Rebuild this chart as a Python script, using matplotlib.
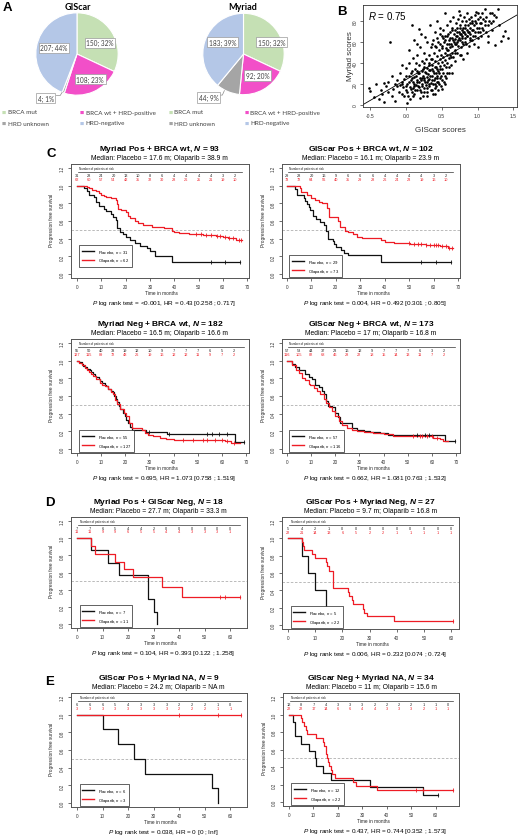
import numpy as np
import matplotlib
matplotlib.use("Agg")
import matplotlib.pyplot as plt
from matplotlib.lines import Line2D

plt.rcParams.update({
    "font.family": ["Liberation Sans", "DejaVu Sans"],
    "mathtext.fontset": "custom",
    "mathtext.rm": "Liberation Sans",
    "mathtext.it": "Liberation Sans:italic",
    "mathtext.bf": "Liberation Sans:bold",
    "mathtext.bfit": "Liberation Sans:bold:italic",
})

# ---------------- data: panel A (pies) ----------------
pie_categories = ["BRCA mut", "BRCA wt + HRD-positive", "HRD unknown", "HRD-negative"]
giscar_counts = [150, 108, 4, 207]
giscar_pcts = [32, 23, 1, 44]
myriad_counts = [150, 92, 44, 183]
myriad_pcts = [32, 20, 9, 39]

# ---------------- data: panel B (scatter) ----------------
scatter_x = [-0.52, -0.5, -0.45, -0.42, -0.38, -0.35, -0.3, -0.3, -0.33,
             -0.28, -0.25, -0.22, -0.2, -0.18, -0.15, -0.12, -0.1, -0.15, -0.25, -0.2, -0.12,
             -0.08, -0.06, -0.05, -0.04, -0.02, 0.0, 0.0, 0.02, 0.03, 0.04, 0.05, 0.06, 0.07, 0.08,
             0.08, 0.09, 0.1, 0.1, 0.02, -0.05, 0.06, 0.0, -0.08, 0.04, 0.1,
             0.12, 0.12, 0.13, 0.14, 0.15, 0.15, 0.16, 0.17, 0.18, 0.18, 0.19, 0.19, 0.2, 0.2, 0.21,
             0.22, 0.22, 0.23, 0.24, 0.25, 0.25, 0.26, 0.26, 0.27, 0.28, 0.28, 0.29, 0.3, 0.3, 0.3,
             0.14, 0.24, 0.27, 0.21, 0.16, 0.11, 0.29,
             0.31, 0.32, 0.32, 0.33, 0.33, 0.34, 0.35, 0.35, 0.36, 0.36, 0.37, 0.37, 0.38, 0.38, 0.39,
             0.39, 0.4, 0.4, 0.41, 0.41, 0.42, 0.42, 0.43, 0.43, 0.44, 0.44, 0.45, 0.45, 0.46, 0.46,
             0.47, 0.47, 0.48, 0.48, 0.49, 0.49, 0.5, 0.5, 0.34, 0.44, 0.38, 0.42, 0.5,
             0.51, 0.51, 0.52, 0.52, 0.53, 0.53, 0.54, 0.54, 0.55, 0.55, 0.56, 0.56, 0.57, 0.57, 0.58,
             0.58, 0.59, 0.59, 0.6, 0.6, 0.61, 0.61, 0.62, 0.62, 0.63, 0.63, 0.64, 0.64, 0.65, 0.65,
             0.66, 0.66, 0.67, 0.67, 0.68, 0.68, 0.69, 0.69, 0.7, 0.7, 0.55, 0.6, 0.65,
             0.71, 0.71, 0.72, 0.72, 0.73, 0.73, 0.74, 0.74, 0.75, 0.75, 0.76, 0.76, 0.77, 0.77, 0.78,
             0.78, 0.79, 0.79, 0.8, 0.8, 0.81, 0.81, 0.82, 0.82, 0.83, 0.84, 0.84, 0.85, 0.86, 0.86,
             0.87, 0.88, 0.88, 0.89, 0.9, 0.9, 0.74, 0.8, 0.85,
             0.91, 0.92, 0.93, 0.94, 0.95, 0.96, 0.97, 0.98, 0.98, 1.0, 1.0, 1.02, 1.03, 1.04, 1.05,
             1.06, 1.08, 1.1, 1.1, 0.95, 1.0,
             1.12, 1.14, 1.15, 1.17, 1.2, 1.2, 1.22, 1.24, 1.26, 1.3, 1.33, 1.36, 1.38, 1.42, 1.15, 1.28,
             -0.05, 0.0, 0.02, 0.05, 0.07, 0.09, 0.11, 0.13, 0.14, 0.16, 0.17, 0.18, 0.2, 0.21, 0.23,
             0.24, 0.25, 0.26, 0.27, 0.28, 0.3, 0.31, 0.32, 0.33, 0.34, 0.35, 0.36, 0.37, 0.38, 0.39,
             0.4, 0.41, 0.42, 0.43, 0.44, 0.45, 0.46, 0.47, 0.48, 0.49, 0.5, 0.52, 0.54, 0.56, 0.3,
             0.2, 0.1, 0.15, 0.26, 0.35, -0.02, 0.07, 0.12, 0.22, 0.33, 0.4, 0.45, 0.53, 0.58, 0.6,
             0.5, 0.55, 0.58, 0.6, 0.62, 0.64, 0.66, 0.68, 0.7, 0.72, 0.73, 0.75, 0.76, 0.78, 0.8,
             0.82, 0.83, 0.85, 0.87, 0.89, 0.9, 0.92, 0.94, 0.96, 0.97, 0.99, 1.01, 1.03, 1.06, 1.08,
             1.1, 1.12, 1.16, 1.19, 1.23, 0.52, 0.57, 0.63, 0.69, 0.77, 0.88, 0.93, 1.0, 1.05, 0.45,
             0.48, 0.4, 0.37]
scatter_y = [16, 13, 7, 20, 5, 14, 21, 3, 10,
             18, 22, 60, 8, 15, 20, 24, 12, 4, 12, 28, 18,
             30, 22, 10, 17, 25, 35, 14, 20, 8, 28, 40, 17, 24, 76,
             12, 32, 22, 45, 2, 38, 5, 28, 19, 52, 16,
             27, 10, 34, 19, 24, 48, 14, 30, 22, 38, 73, 17, 26, 55, 12,
             32, 20, 42, 28, 16, 36, 24, 50, 31, 19, 44, 27, 35, 22, 60,
             40, 8, 65, 68, 58, 62, 12,
             29, 40, 18, 48, 25, 33, 55, 21, 38, 28, 44, 14, 32, 62, 24,
             50, 36, 20, 42, 70, 30, 55, 26, 47, 34, 64, 40, 22, 52, 30,
             44, 74, 37, 58, 28, 48, 41, 66, 76, 80, 10, 18, 15,
             34, 56, 46, 72, 38, 60, 50, 28, 43, 66, 54, 36, 48, 76, 58,
             40, 52, 68, 45, 62, 55, 80, 48, 70, 58, 38, 64, 50, 74, 56,
             46, 84, 60, 68, 52, 72, 63, 42, 58, 78, 88, 30, 30,
             66, 50, 74, 60, 56, 82, 64, 70, 48, 76, 62, 86, 68, 55, 72,
             60, 80, 66, 58, 74, 70, 84, 64, 76, 68, 80, 58, 72, 66, 88,
             76, 70, 82, 62, 78, 68, 90, 44, 50,
             84, 72, 80, 66, 76, 86, 70, 89, 78, 82, 64, 74, 84, 70, 78,
             88, 72, 92, 80, 58, 55,
             84, 76, 66, 88, 88, 72, 80, 57, 84, 76, 61, 66, 71, 64, 60, 92,
             20, 18, 12, 22, 15, 26, 20, 14, 28, 22, 18, 30, 14, 24, 18,
             34, 26, 12, 22, 30, 16, 24, 33, 20, 28, 14, 24, 34, 20, 30,
             26, 16, 36, 22, 28, 32, 20, 26, 34, 18, 24, 30, 20, 26, 8,
             6, 8, 32, 40, 44, 8, 30, 18, 26, 38, 10, 14, 22, 30, 36,
             54, 62, 66, 58, 64, 72, 62, 58, 66, 70, 62, 68, 74, 64, 70,
             60, 74, 66, 70, 74, 64, 78, 72, 80, 66, 74, 70, 78, 74, 82,
             76, 70, 80, 78, 86, 64, 52, 46, 50, 48, 56, 62, 88, 66, 60,
             68, 56, 58]
fit_line_x = [-0.6, 1.55]
fit_line_y = [0.0, 86.0]
r_text = "$R$ = 0.75"

# ---------------- data: KM panels ----------------
# C1 Myriad Pos + BRCA wt
c1_pla_t = [0, 3, 4, 5, 7, 8, 9, 11, 12, 14, 15, 16, 16.5, 17.6, 19, 20, 22, 24, 26, 29, 30, 32, 39, 67]
c1_pla_s = [1.0, 0.97, 0.94, 0.90, 0.87, 0.81, 0.77, 0.74, 0.71, 0.68, 0.65, 0.61, 0.52, 0.48, 0.45, 0.42,
            0.39, 0.35, 0.32, 0.29, 0.26, 0.20, 0.14, 0.14]
c1_pla_cens = [55, 61, 67]
c1_ola_t = [0, 4, 5, 6, 8, 9, 10, 11, 12, 14, 16, 16.5, 17, 18, 20, 21, 22, 24, 25, 27, 29, 31, 36, 38.9,
            40, 42, 46, 52, 57, 60, 62, 65.5, 68]
c1_ola_s = [1.0, 0.98, 0.97, 0.95, 0.94, 0.92, 0.90, 0.88, 0.87, 0.86, 0.84, 0.79, 0.74, 0.72, 0.70, 0.66,
            0.63, 0.60, 0.58, 0.56, 0.55, 0.53, 0.52, 0.49, 0.48, 0.46, 0.45, 0.44, 0.43, 0.42, 0.41, 0.38, 0.38]
c1_ola_cens = [49, 51, 53, 55, 57.5, 59, 61, 62.5, 64, 66.5, 67.5]
c1_risk_pla = [31, 28, 24, 20, 13, 10, 8, 6, 4, 4, 4, 4, 3, 2]
c1_risk_ola = [62, 60, 57, 54, 42, 35, 32, 30, 28, 26, 25, 21, 19, 10]

# C2 GIScar Pos + BRCA wt
c2_pla_t = [0, 3.1, 4.1, 6.8, 7.2, 8.2, 9, 9.5, 10.6, 12, 13.5, 15, 16.1, 16.6, 18.8, 19.2, 20, 22, 23.2,
            24.8, 38.6, 67]
c2_pla_s = [1.0, 0.966, 0.90, 0.862, 0.828, 0.793, 0.759, 0.724, 0.655, 0.621, 0.586, 0.552, 0.483, 0.40,
            0.37, 0.34, 0.31, 0.276, 0.241, 0.21, 0.14, 0.14]
c2_pla_cens = [55, 61, 67]
c2_ola_t = [0, 5.5, 5.9, 8, 10, 11.6, 13, 14.3, 16.4, 17, 20.7, 21.5, 21.8, 23.9, 24.8, 27, 28.8, 30.7,
            38.6, 40, 44, 50.5, 57, 62.7, 66, 68]
c2_ola_s = [1.0, 0.97, 0.925, 0.89, 0.86, 0.84, 0.82, 0.80, 0.75, 0.64, 0.60, 0.58, 0.53, 0.49, 0.47,
            0.45, 0.42, 0.41, 0.38, 0.36, 0.35, 0.34, 0.33, 0.32, 0.29, 0.29]
c2_ola_cens = [50, 52, 53.5, 55, 57, 58.5, 60, 61, 62, 63.5, 65, 66.5, 67.5]
c2_risk_pla = [29, 28, 20, 16, 9, 6, 6, 6, 4, 4, 4, 4, 3, 2]
c2_risk_ola = [73, 72, 64, 56, 40, 35, 29, 28, 26, 24, 23, 19, 16, 10]

# C3 Myriad Neg + BRCA wt
c3_pla_t = [0, 1, 2, 2.5, 3.5, 4.2, 5.3, 6, 6.7, 7.5, 8, 9, 9.4, 10.5, 11.5, 12.2, 12.9, 14, 15, 15.5,
            16, 16.5, 17.2, 17.8, 19.1, 20, 20.5, 21.2, 21.9, 22.6, 28.6, 37.2, 65.6, 69]
c3_pla_s = [1, .98, .96, .945, .93, .91, .89, .87, .85, .83, .81, .79, .77, .75, .73, .71, .68, .66, .64,
            .60, .57, .53, .49, .45, .41, .37, .33, .29, .25, .22, .19, .17, .08, .08]
c3_pla_cens = [30, 38, 54, 56, 59, 62, 69]
c3_ola_t = [0, 1, 2, 3.2, 4, 5, 6, 6.7, 8, 9.4, 10.5, 11.5, 12.9, 14, 15, 15.7, 16.6, 17.8, 19.4, 20.5,
            21.6, 22.6, 26.8, 28, 29.5, 31.6, 34.4, 37, 40, 50, 61.5, 64, 67.5]
c3_ola_s = [1, .97, .95, .92, .90, .87, .85, .83, .79, .75, .73, .71, .68, .65, .62, .56, .51, .45, .41,
            .37, .30, .24, .21, .18, .16, .145, .13, .115, .105, .10, .09, .07, .07]
c3_ola_cens = [44, 48, 52, 54, 57, 60, 62, 65]
c3_risk_pla = [55, 50, 40, 33, 19, 12, 10, 9, 7, 7, 7, 6, 5, 2]
c3_risk_ola = [127, 115, 89, 72, 48, 26, 19, 16, 12, 12, 11, 9, 7, 2]

# C4 GIScar Neg + BRCA wt
c4_pla_t = [0, 2, 3.4, 4.8, 6.2, 7.6, 9, 10.3, 11.7, 13.1, 14.5, 15.4, 16.3, 17, 18.6, 20, 21, 22, 27,
            29, 31.7, 34.4, 38.6, 42, 65.5, 69.6]
c4_pla_s = [1, .96, .925, .90, .89, .85, .82, .79, .73, .70, .66, .62, .54, .49, .47, .41, .36, .30, .24,
            .22, .20, .19, .18, .16, .09, .09]
c4_pla_cens = [54, 57, 59, 69.6]
c4_ola_t = [0, 2, 3.9, 4.8, 6.2, 7.6, 9, 9.6, 11, 12.4, 13.8, 15.2, 16.3, 17.2, 18.6, 20, 21.4, 22.7,
            24.8, 26.9, 29, 31.7, 35.8, 40, 44, 51, 60.6, 63.4, 64.8, 66.5]
c4_ola_s = [1, .95, .90, .86, .80, .78, .74, .72, .69, .655, .62, .57, .52, .475, .43, .375, .32, .27,
            .24, .22, .20, .19, .18, .165, .15, .145, .13, .11, .09, .09]
c4_ola_cens = [52, 55, 56, 58, 60, 62]
c4_risk_pla = [57, 53, 44, 37, 23, 16, 12, 9, 7, 7, 7, 6, 3, 2]
c4_risk_ola = [116, 105, 82, 68, 46, 28, 22, 18, 15, 14, 13, 11, 7, 2]

# D1 Myriad Pos + GIScar Neg
d1_pla_t = [0, 5.3, 12, 16.5, 27.7, 30, 31.5]
d1_pla_s = [1, .857, .714, .571, .286, .143, 0.0]
d1_pla_cens = []
d1_ola_t = [0, 5.3, 7, 15, 18.5, 22, 33.3, 41, 64]
d1_ola_s = [1, .909, .818, .727, .636, .545, .429, .318, .318]
d1_ola_cens = [56, 58, 64]
d1_risk_pla = [7, 7, 6, 5, 4, 4, 2, 0, 0, 0, 0, 0, 0]
d1_risk_ola = [11, 11, 9, 9, 6, 5, 5, 4, 4, 3, 3, 3, 1]

# D2 GIScar Pos + Myriad Neg
d2_pla_t = [0, 5, 7.5, 10, 14, 16.5]
d2_pla_s = [1, .8, .6, .4, .2, 0.0]
d2_pla_cens = []
d2_ola_t = [0, 5, 5.5, 6, 9, 10, 14, 14.5, 15, 16.7, 22, 22.5, 23.5, 24, 27.5, 28, 29, 38.8, 60.6]
d2_ola_s = [1, .955, .909, .864, .818, .773, .727, .682, .62, .43, .38, .33, .29, .24, .19, .14, .10,
            .05, .05]
d2_ola_cens = [60.6]
d2_risk_pla = [5, 4, 2, 1, 0, 0, 0, 0, 0, 0, 0, 0, 0]
d2_risk_ola = [22, 21, 14, 13, 6, 5, 2, 2, 1, 1, 1, 1, 1]

# E1 GIScar Pos + Myriad NA
e1_pla_t = [0, 10.2, 16, 22.2, 26.5, 53, 55]
e1_pla_s = [1, .833, .667, .5, .333, .167, 0.0]
e1_pla_cens = []
e1_ola_t = [0, 64]
e1_ola_s = [1, 1]
e1_ola_cens = [40, 55, 64]
e1_risk_pla = [6, 6, 6, 5, 4, 3, 3, 3, 2, 2, 2, 1, 0]
e1_risk_ola = [3, 3, 3, 3, 3, 3, 3, 3, 2, 2, 2, 1, 1]

# E2 GIScar Neg + Myriad NA
e2_pla_t = [0, 1.5, 2.3, 5, 8, 10.5, 11, 14, 17, 33, 55, 61]
e2_pla_s = [1, .917, .75, .667, .583, .5, .417, .333, .25, .167, .083, .083]
e2_pla_cens = [61]
e2_ola_t = [0, 5, 5.5, 6, 7, 7.5, 11, 14, 14.5, 15, 15.3, 15.6, 16, 16.3, 17, 17.5, 19, 26, 27.5, 36, 67]
e2_ola_s = [1, .955, .909, .864, .818, .773, .727, .682, .636, .591, .545, .5, .455, .41, .364, .318,
            .273, .227, .182, .136, .136]
e2_ola_cens = [52, 55, 67]
e2_risk_pla = [12, 8, 7, 4, 3, 3, 3, 2, 2, 2, 2, 1, 1, 0]
e2_risk_ola = [22, 22, 17, 14, 6, 6, 4, 4, 3, 3, 3, 2, 1, 1]

km_titles = [
    r"Myriad Pos + BRCA wt, $\mathbfit{N}$ = 93",
    r"GIScar Pos + BRCA wt, $\mathbfit{N}$ = 102",
    r"Myriad Neg + BRCA wt, $\mathbfit{N}$ = 182",
    r"GIScar Neg + BRCA wt, $\mathbfit{N}$ = 173",
    r"Myriad Pos + GIScar Neg, $\mathbfit{N}$ = 18",
    r"GIScar Pos + Myriad Neg, $\mathbfit{N}$ = 27",
    r"GIScar Pos + Myriad NA, $\mathbfit{N}$ = 9",
    r"GIScar Neg + Myriad NA, $\mathbfit{N}$ = 34",
]
km_medians = [
    "Median: Placebo = 17.6 m; Olaparib = 38.9 m",
    "Median: Placebo = 16.1 m; Olaparib = 23.9 m",
    "Median: Placebo = 16.5 m; Olaparib = 16.6 m",
    "Median: Placebo = 17 m; Olaparib = 16.8 m",
    "Median: Placebo = 27.7 m; Olaparib = 33.3 m",
    "Median: Placebo = 9.7 m; Olaparib = 16.8 m",
    "Median: Placebo = 24.2 m; Olaparib = NA m",
    "Median: Placebo = 11 m; Olaparib = 15.6 m",
]
km_stats = [
    "log rank test = <0.001, HR = 0.43 [0.258 ; 0.717]",
    "log rank test = 0.004, HR = 0.492 [0.301 ; 0.805]",
    "log rank test = 0.695, HR = 1.073 [0.758 ; 1.519]",
    "log rank test = 0.662, HR = 1.081 [0.763 ; 1.532]",
    "log rank test = 0.104, HR = 0.393 [0.122 ; 1.258]",
    "log rank test = 0.006, HR = 0.232 [0.074 ; 0.724]",
    "log rank test = 0.038, HR = 0 [0 ; Inf]",
    "log rank test = 0.437, HR = 0.744 [0.352 ; 1.573]",
]
km_n_pla = [31, 29, 55, 57, 7, 5, 6, 12]
km_n_ola = [62, 73, 127, 116, 11, 22, 3, 22]

# ---------------- layout ----------------
W, H = 520, 837
fig = plt.figure(figsize=(W / 100, H / 100), dpi=100)
fig.patch.set_facecolor("white")

BLACK = "#111111"
RED = "#EE1C25"
PIE_COLORS = ["#C5E0B4", "#F24FC8", "#A5A5A5", "#B4C7E7"]


def rect(l, t, r, b):
    return [l / W, 1 - b / H, (r - l) / W, (b - t) / H]


def ftxt(x, y, s, **kw):
    kw.setdefault("ha", "center")
    kw.setdefault("va", "center")
    return fig.text(x / W, 1 - y / H, s, **kw)


# ---------- panel letters ----------
for letter, (lx, ly) in zip("ABCDE", [(7, 8), (342, 12), (51, 154), (50, 503), (50, 682)]):
    ftxt(lx, ly, letter, fontsize=9.5, fontweight="bold")

# ---------- Panel A: pies ----------
pie_specs = [
    ("GIScar", giscar_counts, giscar_pcts, (35, 13, 119, 97), 78,
     [(0.56, 0.27), (0.32, -0.61), (-0.76, -1.07), (-0.56, 0.15)],
     [(-0.50, -1.01), (-0.41, -1.01), (-0.36, -0.93)]),
    ("Myriad", myriad_counts, myriad_pcts, (202, 13.5, 285, 96.5), 243,
     [(0.69, 0.29), (0.35, -0.53), (-0.86, -1.07), (-0.52, 0.29)],
     [(-0.62, -1.01), (-0.52, -1.01), (-0.47, -0.9)]),
]
for name, counts, pcts, box, tx, lpos, leader in pie_specs:
    ax = fig.add_axes(rect(*box))
    ax.pie(counts, colors=PIE_COLORS, startangle=90, counterclock=False,
           wedgeprops=dict(edgecolor="white", linewidth=0.8))
    ax.set_xlim(-1.02, 1.02)
    ax.set_ylim(-1.02, 1.02)
    ax.set_aspect("equal")
    ax.axis("off")
    for (c, p, (lx, ly)) in zip(counts, pcts, lpos):
        ax.text(lx, ly, f"{c}; {p}%", fontsize=4.7, family="Lato", ha="center", va="center",
                color="#404040", clip_on=False,
                bbox=dict(boxstyle="square,pad=0.25", fc="white", ec="#9a9a9a", lw=0.5))
    lxs, lys = zip(*leader)
    ax.plot(lxs, lys, color="#8a8a8a", lw=0.5, clip_on=False)
    ftxt(tx, 8, name, fontsize=6.5, fontweight="bold", family="Lato")

legend_cols = [(3, 81), (170, 246)]
for (xa, xb) in legend_cols:
    for i, cat in enumerate(pie_categories):
        x = xa if i % 2 == 0 else xb
        y = 113 if i < 2 else 124
        ftxt(x + 1, y, "\u25A0", fontsize=3.2, color=PIE_COLORS[i], family="DejaVu Sans")
        ftxt(x + 4.5, y, cat, fontsize=4.5, family="Lato", ha="left", color="#404040")

# ---------- Panel B: scatter ----------
axs = fig.add_axes(rect(363, 5.7, 516.7, 108))
axs.scatter(scatter_x, scatter_y, s=3.6, c="black", marker="o", linewidths=0)
axs.plot(fit_line_x, fit_line_y, color="black", lw=0.6)
axs.set_xlim(-0.598, 1.547)
axs.set_ylim(-2.2, 95.9)
axs.set_xticks([-0.5, 0.0, 0.5, 1.0, 1.5])
axs.set_xticklabels(["-0.5", "0.0", "0.5", "1.0", "1.5"])
axs.set_yticks([0, 20, 40, 60, 80])
axs.set_yticklabels(["0", "20", "40", "60", "80"], rotation=90, va="center")
axs.tick_params(length=2, width=0.5, pad=2, labelsize=3.6, colors="#333333")
for sp in axs.spines.values():
    sp.set_linewidth(0.6)
    sp.set_color("#333333")
axs.text(0.03, 0.9, r_text, transform=axs.transAxes, fontsize=7, ha="left", va="center")
ftxt(440, 130, "GIScar scores", fontsize=5.8, color="#333333")
ftxt(350, 56, "Myriad scores", fontsize=5.8, rotation=90, color="#333333")

# ---------- KM panels ----------
km_curves = [
    (c1_pla_t, c1_pla_s, c1_pla_cens, c1_ola_t, c1_ola_s, c1_ola_cens, c1_risk_pla, c1_risk_ola),
    (c2_pla_t, c2_pla_s, c2_pla_cens, c2_ola_t, c2_ola_s, c2_ola_cens, c2_risk_pla, c2_risk_ola),
    (c3_pla_t, c3_pla_s, c3_pla_cens, c3_ola_t, c3_ola_s, c3_ola_cens, c3_risk_pla, c3_risk_ola),
    (c4_pla_t, c4_pla_s, c4_pla_cens, c4_ola_t, c4_ola_s, c4_ola_cens, c4_risk_pla, c4_risk_ola),
    (d1_pla_t, d1_pla_s, d1_pla_cens, d1_ola_t, d1_ola_s, d1_ola_cens, d1_risk_pla, d1_risk_ola),
    (d2_pla_t, d2_pla_s, d2_pla_cens, d2_ola_t, d2_ola_s, d2_ola_cens, d2_risk_pla, d2_risk_ola),
    (e1_pla_t, e1_pla_s, e1_pla_cens, e1_ola_t, e1_ola_s, e1_ola_cens, e1_risk_pla, e1_risk_ola),
    (e2_pla_t, e2_pla_s, e2_pla_cens, e2_ola_t, e2_ola_s, e2_ola_cens, e2_risk_pla, e2_risk_ola),
]
# layout: box_l, box_r, x0 px, px per month, y px of 1.2, y px of 0.0, legend bottom y, x-tick max
km_layout = [
    (70.5, 249, 77, 2.43, 169, 275, 0.08, 70),
    (282, 460, 287, 2.443, 169, 275, -0.035, 70),
    (70.5, 249, 77, 2.414, 344, 450, -0.035, 70),
    (282, 460, 287, 2.414, 344, 450, -0.035, 70),
    (70.5, 247, 77, 2.55, 522, 625, -0.035, 60),
    (282, 459, 288, 2.72, 522, 626, -0.035, 60),
    (70.5, 247, 77, 2.556, 698, 804, -0.035, 60),
    (283, 459, 289, 2.444, 698, 803, -0.035, 60),
]


def step_value(t, s, x):
    idx = np.searchsorted(np.asarray(t), np.asarray(x), side="right") - 1
    return np.asarray(s)[np.clip(idx, 0, len(s) - 1)]


for k in range(8):
    (pt, ps, pc, ot, os_, oc, rp, ro) = km_curves[k]
    box_l, box_r, x0, spm, y12, y0, leg_y, xtmax = km_layout[k]
    u = (y0 - y12) / 1.2
    top = y0 - 1.248 * u
    bottom = y0 + 0.048 * u
    xmin = (box_l - x0) / spm
    xmax = (box_r - x0) / spm
    ax = fig.add_axes(rect(box_l, top, box_r, bottom))
    ax.set_xlim(xmin, xmax)
    ax.set_ylim(-0.048, 1.248)

    ax.axhline(0.5, color="#b0b0b0", lw=0.6, ls=(0, (3, 2)))
    ax.step(pt, ps, where="post", color=BLACK, lw=0.9)
    ax.step(ot, os_, where="post", color=RED, lw=0.9)
    if len(pc):
        ax.plot(pc, step_value(pt, ps, pc), ls="none", marker="|", ms=2.6, mew=0.6, color=BLACK)
    if len(oc):
        ax.plot(oc, step_value(ot, os_, oc), ls="none", marker="|", ms=2.6, mew=0.6, color=RED)

    # number at risk
    tmax = max(pt[-1], ot[-1])
    ax.plot([0.5, tmax], [1.15, 1.15], color="#333333", lw=0.5)
    ax.text(1.0, 1.2, "Number of patients at risk", fontsize=2.2, ha="left", va="center", color="#222222")
    rt = np.arange(len(rp)) * 5
    for tt, a, b in zip(rt, rp, ro):
        ax.text(tt, 1.12, str(a), fontsize=2.8, ha="center", va="center", color="#222222")
        ax.text(tt, 1.078, str(b), fontsize=2.8, ha="center", va="center", color=RED)

    ax.set_xticks(np.arange(0, xtmax + 1, 10))
    ax.set_yticks(np.arange(0, 1.21, 0.2))
    ax.set_yticklabels([f"{v:.1f}" for v in np.arange(0, 1.21, 0.2)], rotation=90, va="center")
    ax.tick_params(length=2, width=0.5, pad=2.3, labelsize=3.3, colors="#333333")
    for sp in ax.spines.values():
        sp.set_linewidth(0.7)
        sp.set_color("#555555")

    handles = [Line2D([0], [0], color=BLACK, lw=1.0), Line2D([0], [0], color=RED, lw=1.0)]
    labels = [f"Placebo, $n$ = {km_n_pla[k]}", f"Olaparib, $n$ = {km_n_ola[k]}"]
    leg = ax.legend(handles, labels, loc="lower left", bbox_to_anchor=(1.0, leg_y),
                    bbox_transform=ax.transData, fontsize=3.0, frameon=True, fancybox=False,
                    edgecolor="#222222", framealpha=1, handlelength=2.8, borderpad=0.6,
                    labelspacing=0.45, handletextpad=1.0, borderaxespad=0)
    leg.get_frame().set_linewidth(0.5)

    cx = (box_l + box_r) / 2
    ftxt(cx, top - 15, km_titles[k], fontsize=6.0, fontweight="bold")
    ftxt(cx, top - 6.2, km_medians[k], fontsize=4.9)
    ftxt(cx + 2, bottom + 14.5, "Time in months", fontsize=3.4, color="#222222")
    ftxt(cx + 4, bottom + 24, "$P$ " + km_stats[k], fontsize=4.6)
    ftxt(box_l - 18.5, (top + bottom) / 2 - 2, "Progression free survival", fontsize=3.4,
         rotation=90, color="#222222")

fig.savefig("out.png", dpi=100, facecolor="white")
